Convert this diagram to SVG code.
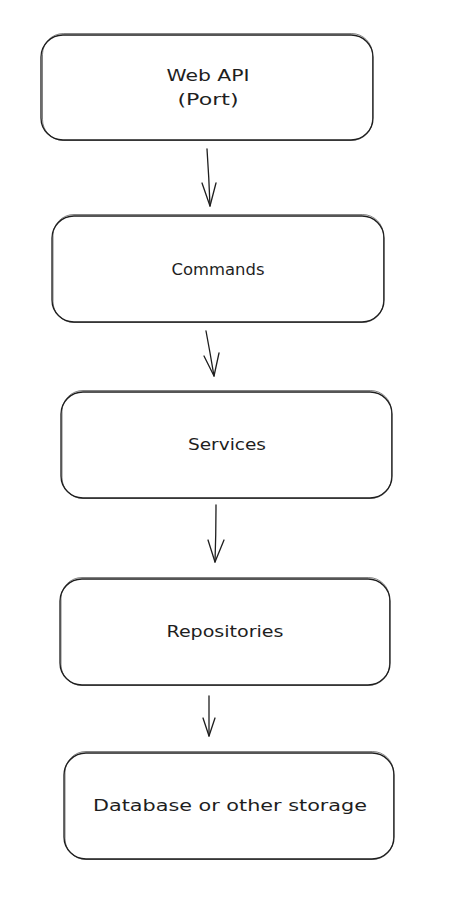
<svg xmlns="http://www.w3.org/2000/svg" width="474" height="909" viewBox="0 0 474 909">
<style>
.box{fill:none;stroke:#1e1e1e;stroke-width:1.3}
.box2{fill:none;stroke:#1e1e1e;stroke-width:0.7;opacity:0.8}
.lbl{font-family:"DejaVu Sans","Liberation Sans",sans-serif;font-size:16px;fill:#1e1e1e;text-anchor:middle}
.arr{fill:none;stroke:#1e1e1e;stroke-width:1.3;stroke-linecap:round;stroke-linejoin:round}
</style>
<rect width="474" height="909" fill="#ffffff"/>
<g id="node-webapi">
<rect class="box" x="41" y="35" width="332" height="105" rx="22"/>
<rect class="box2" x="42.5" y="33.5" width="330" height="107" rx="21"/>
<text class="lbl" x="208" y="81" textLength="83" lengthAdjust="spacingAndGlyphs">Web API</text>
<text class="lbl" x="208" y="105" textLength="61" lengthAdjust="spacingAndGlyphs">(Port)</text>
</g>
<g id="node-commands">
<rect class="box" x="52" y="216" width="332" height="106" rx="22"/>
<rect class="box2" x="53" y="214.5" width="330.5" height="108" rx="21"/>
<text class="lbl" x="218" y="275" textLength="93" lengthAdjust="spacingAndGlyphs">Commands</text>
</g>
<g id="node-services">
<rect class="box" x="61" y="392" width="331" height="106" rx="22"/>
<rect class="box2" x="62" y="390.5" width="329.5" height="108" rx="21"/>
<text class="lbl" x="227" y="450" textLength="78" lengthAdjust="spacingAndGlyphs">Services</text>
</g>
<g id="node-repositories">
<rect class="box" x="60" y="579" width="330" height="106" rx="22"/>
<rect class="box2" x="61" y="577.5" width="328.5" height="108" rx="21"/>
<text class="lbl" x="225" y="637" textLength="117" lengthAdjust="spacingAndGlyphs">Repositories</text>
</g>
<g id="node-database">
<rect class="box" x="64" y="753" width="330" height="106" rx="22"/>
<rect class="box2" x="65" y="751.5" width="328.5" height="108" rx="21"/>
<text class="lbl" x="230" y="811" textLength="274" lengthAdjust="spacingAndGlyphs">Database or other storage</text>
</g>
<g id="connectors">
<path class="arr" d="M207 149 Q209 178 210 206"/>
<path class="arr" d="M202 183 L210 206 L216 183"/>
<path class="arr" d="M206 331 Q210 352 214 376"/>
<path class="arr" d="M204 356 L214 376 L219 353"/>
<path class="arr" d="M216 505 Q216 534 215 562"/>
<path class="arr" d="M208 540 L215 562 L224 540"/>
<path class="arr" d="M209 696 L209 736"/>
<path class="arr" d="M203 718 L209 736 L215 718"/>
</g>
</svg>
